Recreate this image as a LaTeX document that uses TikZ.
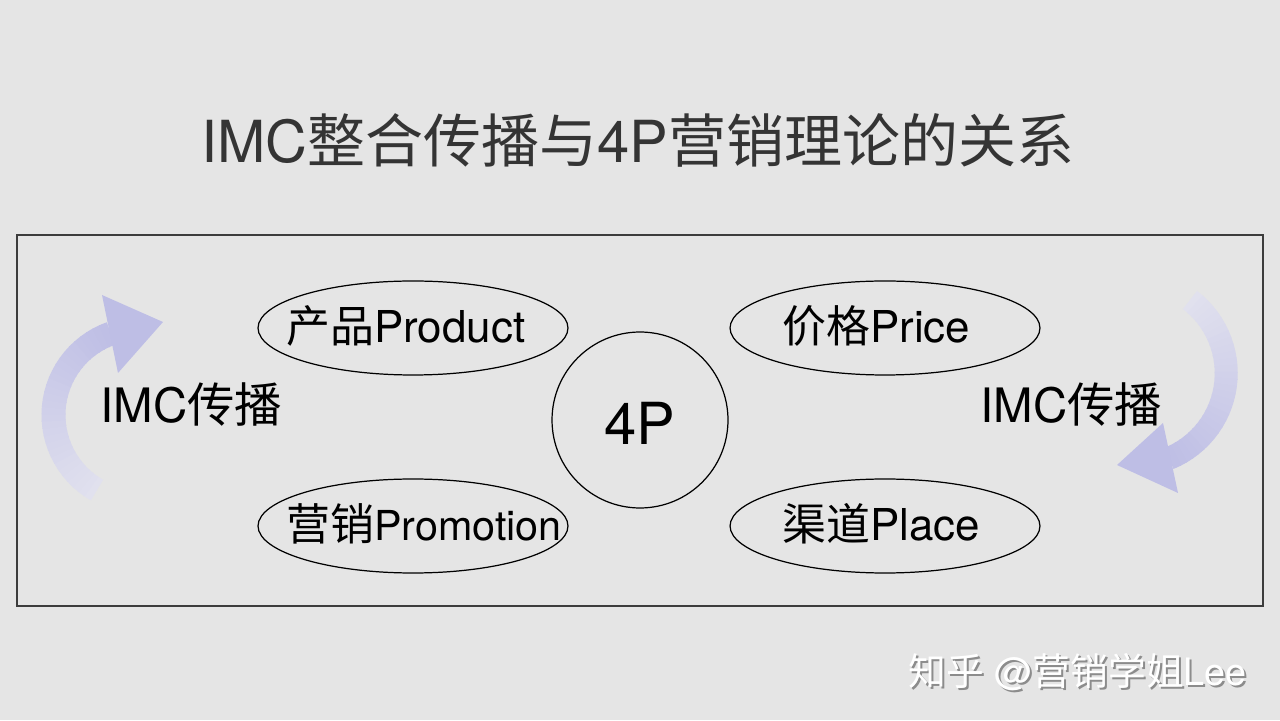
\documentclass[tikz,border=0pt]{standalone}
\usepackage{fontspec}
\setmainfont{TeX Gyre Heros}
\newfontfamily\cjk{Noto Sans CJK SC}
\usetikzlibrary{shapes.geometric}
\definecolor{bg}{RGB}{229,229,229}
\definecolor{titlec}{RGB}{52,52,52}
\definecolor{framec}{RGB}{60,60,60}
\definecolor{arrowc}{RGB}{190,190,229}
\definecolor{arrowl}{RGB}{225,225,238}
\definecolor{shadowc}{RGB}{140,140,140}
\begin{document}
\begin{tikzpicture}[x=0.02cm,y=0.02cm,
  txt/.style={inner sep=0pt, text=black},
  pbox/.style={ellipse, draw=black, line width=0.7pt, minimum width=6.2cm, minimum height=1.88cm, inner sep=0pt},
  ptxt/.style={txt, anchor=base west, font=\fontsize{25}{30}\selectfont},
  imc/.style={txt, anchor=base west, font=\fontsize{27}{32}\selectfont}]
\fill[bg] (0,0) rectangle (1280,720);
\useasboundingbox (0,0) rectangle (1280,720);

% title
\node[txt, anchor=base, text=titlec, font=\fontsize{33}{40}\selectfont] (title) at (638,557)
  {IMC{\cjk 整合传播与}4P{\cjk 营销理论的关系}};

% frame
\draw[framec, line width=0.9pt] (17,114) rectangle (1263,485);

% ellipses
\node[pbox] (e1) at (413,392) {};
\node[pbox] (e2) at (885,392) {};
\node[pbox] (e3) at (413,194) {};
\node[pbox] (e4) at (885,194) {};
\node[circle, draw=black, line width=0.7pt, minimum size=3.52cm, inner sep=0pt] (c) at (640,300) {};

\node[ptxt] (t1) at (286,377) {{\cjk 产品}Product};
\node[ptxt] (t2) at (782,377) {{\cjk 价格}Price};
\node[ptxt] (t3) at (286,179) {{\cjk 营销}{\fontsize{23.5}{30}\selectfont Promotion}};
\node[ptxt] (t4) at (782,179) {{\cjk 渠道}Place};
\node[txt, anchor=base, font=\fontsize{33}{40}\selectfont] (t0) at (640,275) {4P};

% left arrow
\foreach \i in {0,...,29} {
  \pgfmathsetmacro\aa{240.2 - \i*129.9/30}
  \pgfmathsetmacro\ab{\aa - 129.9/30 - 0.7}
  \pgfmathtruncatemacro\p{100*(\i+0.5)/30}
  \draw[line width=0.48cm, color=arrowc!\p!arrowl] plot[domain=\aa:\ab, samples=4] ({140+86.5*cos(\x)},{305+86.5*sin(\x)});
}
\fill[arrowc] (163,398) -- (102,425) -- (118,347) -- cycle;

% right arrow
\foreach \i in {0,...,29} {
  \pgfmathsetmacro\aa{52.7 - \i*119.8/30}
  \pgfmathsetmacro\ab{\aa - 119.8/30 - 0.7}
  \pgfmathtruncatemacro\p{100*(\i+0.5)/30}
  \draw[line width=0.46cm, color=arrowc!\p!arrowl] plot[domain=\aa:\ab, samples=4] ({1134.2+92*cos(\x)},{346.8+92*sin(\x)});
}
\fill[arrowc] (1117,255) -- (1163,297) -- (1178,227) -- cycle;

\node[imc] (l1) at (100,297) {IMC{\cjk 传播}};
\node[imc] (l2) at (980,297) {IMC{\cjk 传播}};

% watermark
\node[txt, anchor=base west, text=shadowc, font=\fontsize{21.5}{26}\selectfont] (wms) at (910,33) {{\cjk 知乎} @{\cjk 营销学姐}Lee};
\node[txt, anchor=base west, text=white, font=\fontsize{21.5}{26}\selectfont] (wm) at (908,35) {{\cjk 知乎} @{\cjk 营销学姐}Lee};
\end{tikzpicture}
\end{document}
